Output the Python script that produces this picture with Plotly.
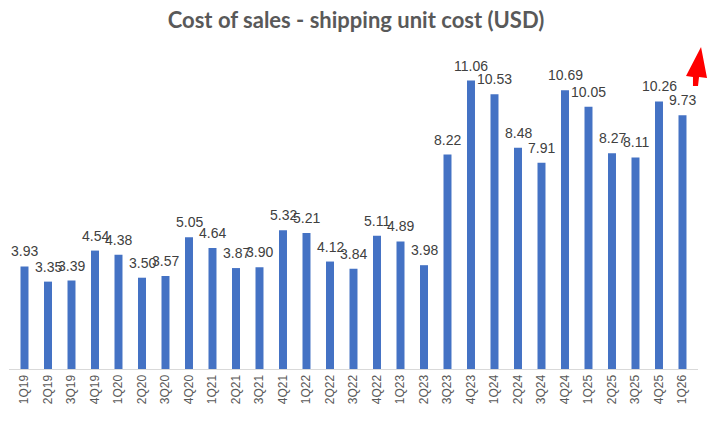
import plotly.graph_objects as go

quarters = ["1Q19", "2Q19", "3Q19", "4Q19", "1Q20", "2Q20", "3Q20", "4Q20",
            "1Q21", "2Q21", "3Q21", "4Q21", "1Q22", "2Q22", "3Q22", "4Q22",
            "1Q23", "2Q23", "3Q23", "4Q23", "1Q24", "2Q24", "3Q24", "4Q24",
            "1Q25", "2Q25", "3Q25", "4Q25", "1Q26"]
unit_cost = [3.93, 3.35, 3.39, 4.54, 4.38, 3.50, 3.57, 5.05,
             4.64, 3.87, 3.90, 5.32, 5.21, 4.12, 3.84, 5.11,
             4.89, 3.98, 8.22, 11.06, 10.53, 8.48, 7.91, 10.69,
             10.05, 8.27, 8.11, 10.26, 9.73]

W, H = 712, 422
ML, MR, MT, MB = 9, 14, 56, 53

fig = go.Figure()
fig.add_trace(go.Bar(x=quarters, y=unit_cost, marker_color="#4472C4",
                     marker_line_width=0, hoverinfo="x+y"))

for q, v in zip(quarters, unit_cost):
    fig.add_annotation(x=q, y=v, text=f"{v:.2f}", showarrow=False,
                       yanchor="bottom", yshift=5,
                       font=dict(family="Liberation Sans, Arial", size=14, color="#404040"))

# red arrow (pixel coords -> paper coords)
pw, ph = W - ML - MR, H - MT - MB
def px(x):
    return (x - ML) / pw
def py(y):
    return (H - MB - y) / ph
pts = [(701, 47), (707, 78), (699, 77), (698, 86), (693, 86), (693, 77), (686, 76)]
path = "M " + " L ".join(f"{px(a):.4f},{py(b):.4f}" for a, b in pts) + " Z"
fig.add_shape(type="path", path=path, xref="paper", yref="paper",
              fillcolor="#FF0000", line=dict(color="#FF0000", width=0))

fig.update_layout(
    width=W, height=H,
    margin=dict(l=ML, r=MR, t=MT, b=MB),
    paper_bgcolor="white", plot_bgcolor="white",
    bargap=0.66,
    showlegend=False,
    title=dict(text="<b>Cost of sales - shipping unit cost (USD)</b>",
               x=0.5, xanchor="center", y=0.952, yanchor="middle",
               font=dict(family="Lato, Noto Sans", size=22, color="#595959")),
    xaxis=dict(type="category", tickangle=-90, showgrid=False,
               showline=True, linecolor="#D9D9D9", linewidth=1,
               ticks="", tickfont=dict(family="Liberation Sans, Arial", size=12, color="#595959")),
    yaxis=dict(range=[0, 12], visible=False, showgrid=False, zeroline=False),
)

fig.write_html("out.html")
